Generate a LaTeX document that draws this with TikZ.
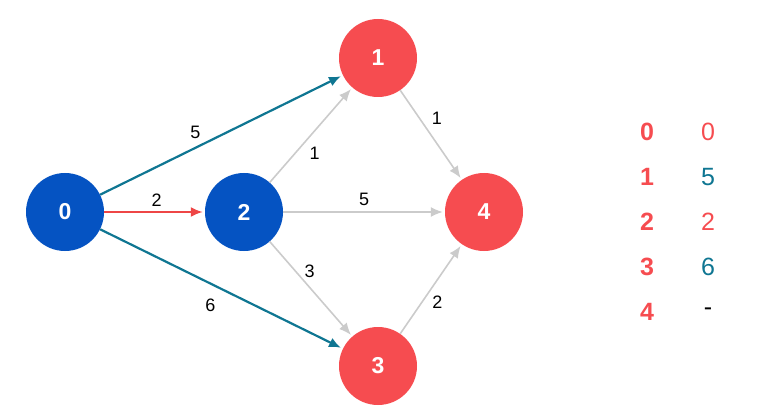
\documentclass[tikz,border=0pt]{standalone}
\usepackage{fontspec}
\setmainfont{Liberation Sans}
\usetikzlibrary{arrows.meta}
\definecolor{spBlue}{HTML}{0553C2}
\definecolor{spRed}{HTML}{F64C50}
\definecolor{spTeal}{HTML}{0F7692}
\definecolor{spLine}{HTML}{EE4646}
\definecolor{spGrey}{HTML}{CBCBCB}
\begin{document}
\begin{tikzpicture}[x=1pt, y=-1pt,
  vtx/.style={circle, inner sep=0pt, minimum size=78pt, text=white, font=\fontsize{23}{23}\selectfont\bfseries},
  vdone/.style={vtx, fill=spBlue},
  vopen/.style={vtx, fill=spRed},
  edg/.style={-{Latex[length=12pt, width=10pt]}, shorten >=2pt},
  etree/.style={edg, line width=2.2pt, spTeal},
  enext/.style={edg, line width=2pt, spLine},
  eplain/.style={edg, line width=1.6pt, spGrey},
  wgt/.style={font=\fontsize{18}{18}\selectfont, text=black, inner sep=0pt},
  tkey/.style={font=\fontsize{25}{25}\selectfont\bfseries, text=spRed},
  tval/.style={font=\fontsize{25}{25}\selectfont}]
\useasboundingbox (0,0) rectangle (757,414);
\node[vdone] (v0) at (65,212) {0};
\node[vdone] (v2) at (244,212) {2};
\node[vopen] (v1) at (378,58) {1};
\node[vopen] (v3) at (378,366) {3};
\node[vopen] (v4) at (484,212) {4};
\foreach \a/\b/\s/\w/\p/\dx/\dy in {v0/v1/etree/5/0.417/-6/13, v0/v2/enext/2/0.52/0/12,
  v0/v3/etree/6/0.487/-8/-18, v2/v1/eplain/1/0.41/11/-10, v2/v4/eplain/5/0.5/0/13,
  v2/v3/eplain/3/0.386/8/7, v1/v4/eplain/1/0.40/12/8, v3/v4/eplain/2/0.426/11/-7}{
  \draw[\s] (\a) -- node[wgt, pos=\p, xshift=\dx, yshift=\dy] (w\a\b) {\w} (\b);}
% distance table
\foreach \k/\d/\c/\y in {0/0/spRed/132, 1/5/spTeal/177, 2/2/spRed/222, 3/6/spTeal/267, 4/-/black/312}{
  \node[tkey] (k\k) at (647,\y) {\k};
  \node[tval, text=\c] (d\k) at (708,\y) {\d};}
\end{tikzpicture}
\end{document}
